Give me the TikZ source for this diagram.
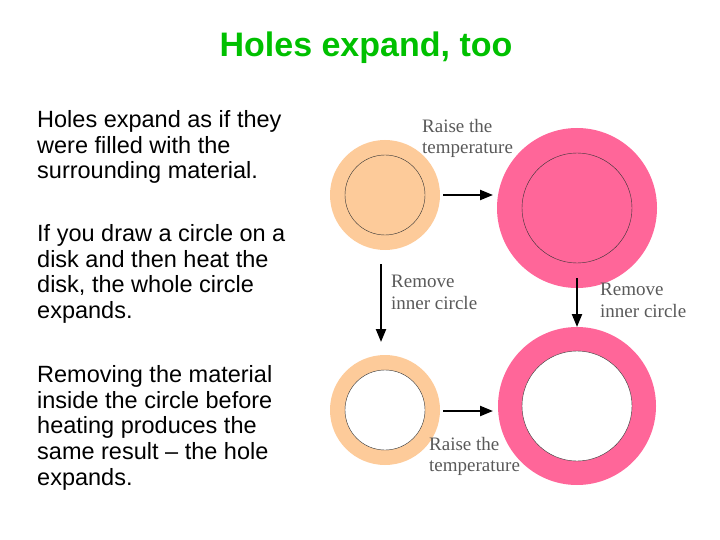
\documentclass[tikz,border=0pt]{standalone}
\usepackage{fontspec}
\setmainfont{Liberation Sans}
\newfontfamily\serifx{Liberation Serif}
\usetikzlibrary{arrows.meta}
\definecolor{peach}{HTML}{FDCB9A}
\definecolor{pinkx}{HTML}{FF6699}
\definecolor{titlegreen}{HTML}{00C000}
\begin{document}
\begin{tikzpicture}[x=1pt,y=-1pt,
  body/.style={anchor=north west,align=left,font=\fontsize{23.5}{25.8}\selectfont,inner sep=0pt},
  lab/.style={anchor=north west,align=left,font=\serifx\fontsize{19}{21.5}\selectfont,text=black!65,inner sep=0pt},
  arr/.style={-{Triangle[length=13pt,width=10pt]},line width=2.2pt}]
\useasboundingbox (0,0) rectangle (720,540);
\node[font=\bfseries\fontsize{34}{38}\selectfont,text=titlegreen] (title) at (366,48) {Holes expand, too};
\node[body] (t1) at (37,110) {Holes expand as if they\\were filled with the\\surrounding material.};
\node[body] (t2) at (37,224) {If you draw a circle on a\\disk and then heat the\\disk, the whole circle\\expands.};
\node[body] (t3) at (37,365) {Removing the material\\inside the circle before\\heating produces the\\same result -- the hole\\expands.};
% disks
\fill[peach] (385,195) circle (55);
\draw[black!80,fill=peach] (385,195) circle (40);
\fill[pinkx] (577,208) circle (80);
\draw[black!80,fill=pinkx] (577,208) circle (55);
\fill[peach] (385,410) circle (55);
\draw[black!80,fill=white] (385,410) circle (40);
\fill[pinkx] (577,406) circle (79);
\draw[black!80,fill=white] (577,406) circle (55);
\coordinate (a1) at (443,195); \coordinate (b1) at (493,195);
\coordinate (a2) at (443,411); \coordinate (b2) at (493,411);
\coordinate (a3) at (381,264); \coordinate (b3) at (381,342);
\coordinate (a4) at (577,278); \coordinate (b4) at (577,327);
\draw[arr] (a1) -- (b1);
\draw[arr] (a2) -- (b2);
\draw[arr] (a3) -- (b3);
\draw[arr] (a4) -- (b4);
\node[lab] (l1) at (422,119) {Raise the\\temperature};
\node[lab] (l2) at (391,275) {Remove\\inner circle};
\node[lab] (l3) at (600,283) {Remove\\inner circle};
\node[lab] (l4) at (429,437) {Raise the\\temperature};
\end{tikzpicture}
\end{document}
